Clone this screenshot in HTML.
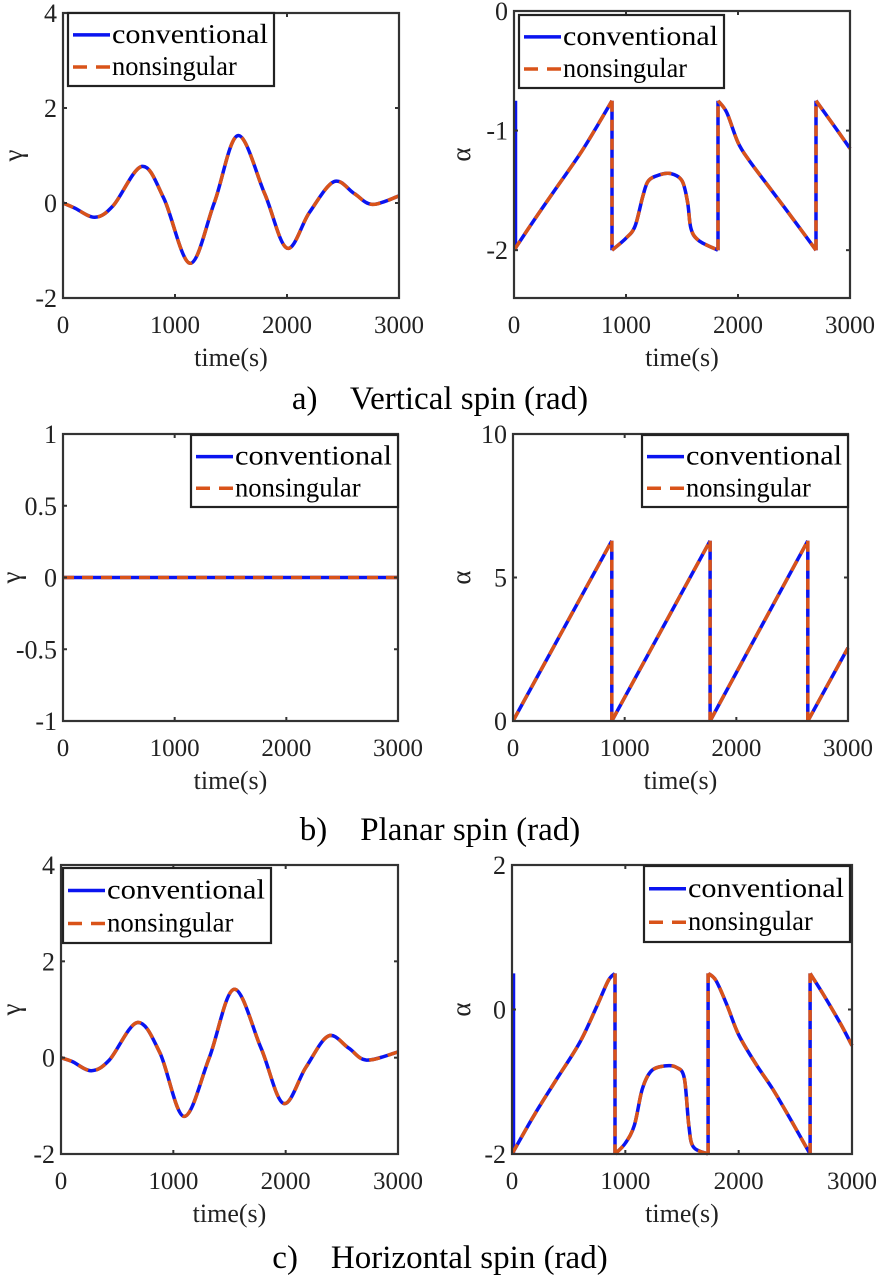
<!DOCTYPE html>
<html><head><meta charset="utf-8">
<style>
html,body{margin:0;padding:0;background:#fff;}
svg{display:block;font-family:"Liberation Serif",serif;}
</style></head>
<body>
<svg id="fig" width="881" height="1279" viewBox="0 0 881 1279"></svg>
<script>
// ---------- data ----------
const xTicks = [0, 1000, 2000, 3000];
// a) vertical spin
const aGammaT = [0,100,285,450,705,900,1134,1350,1562,1800,2000,2200,2420,2600,2760,3000];
const aGammaV = [0,-0.1,-0.3,-0.05,0.77,0.1,-1.27,0,1.42,0.2,-0.95,-0.2,0.45,0.2,-0.03,0.15];
const aAlphaT = [0,200,400,600,750,875,null,875,1000,1080,1150,1200,1300,1400,1500,1550,1580,1650,1821,null,1821,1900,2000,2100,2300,2500,2696,null,2696,2850,3000];
const aAlphaV = [-2,-1.72,-1.45,-1.18,-0.95,-0.75,null,-2,-1.9,-1.8,-1.55,-1.42,-1.37,-1.36,-1.42,-1.6,-1.82,-1.92,-2,null,-0.75,-0.85,-1.1,-1.25,-1.5,-1.75,-2,null,-0.75,-0.95,-1.15];
// b) planar spin
const bGammaT = [0,3000];
const bGammaV = [0,0];
const bAlphaT = [0,885,null,885,1765,null,1765,2640,null,2640,3000];
const bAlphaV = [0,6.28,null,0,6.28,null,0,6.28,null,0,2.55];
// c) horizontal spin
const cGammaT = [0,100,270,430,680,880,1095,1320,1540,1780,1980,2180,2380,2560,2720,3000];
const cGammaV = [0,-0.08,-0.27,-0.05,0.73,0.1,-1.22,0,1.42,0.2,-0.95,-0.2,0.45,0.2,-0.05,0.12];
const cAlphaT = [0,200,400,600,750,850,909,null,909,1000,1080,1150,1230,1350,1450,1520,1560,1600,1730,null,1730,1800,1900,2000,2150,2300,2450,2630,null,2630,2750,2900,3000];
const cAlphaV = [-2,-1.45,-0.95,-0.45,0.05,0.4,0.5,null,-2,-1.85,-1.6,-1.1,-0.85,-0.78,-0.8,-0.95,-1.6,-1.9,-2,null,0.5,0.4,0.05,-0.35,-0.75,-1.1,-1.5,-2,null,0.5,0.2,-0.2,-0.5];

const NS = "http://www.w3.org/2000/svg";
const svg = document.getElementById('fig');
function mk(tag, attrs, parent){
  const e = document.createElementNS(NS, tag);
  for (const k in attrs) e.setAttribute(k, attrs[k]);
  (parent||svg).appendChild(e);
  return e;
}
function smoothPath(pts){
  if (pts.length < 3) return 'M'+pts.map(p=>p[0].toFixed(1)+','+p[1].toFixed(1)).join(' L');
  let d = 'M'+pts[0][0].toFixed(1)+','+pts[0][1].toFixed(1);
  for (let i=0;i<pts.length-1;i++){
    const p0=pts[Math.max(0,i-1)], p1=pts[i], p2=pts[i+1], p3=pts[Math.min(pts.length-1,i+2)];
    const c1=[p1[0]+(p2[0]-p0[0])/6, p1[1]+(p2[1]-p0[1])/6];
    const c2=[p2[0]-(p3[0]-p1[0])/6, p2[1]-(p3[1]-p1[1])/6];
    d += ' C'+c1.map(v=>v.toFixed(1)).join(',')+' '+c2.map(v=>v.toFixed(1)).join(',')+' '+p2[0].toFixed(1)+','+p2[1].toFixed(1);
  }
  return d;
}
function panel(cfg){
  const g = mk('g', {});
  
  
  const X = t => cfg.x0 + (t - 0) / 3000 * (cfg.x1 - cfg.x0);
  const Y = v => cfg.y1 - (v - cfg.ymin) / (cfg.ymax - cfg.ymin) * (cfg.y1 - cfg.y0);
  const segs = []; let cur = [];
  for (let i=0;i<cfg.T.length;i++){
    if (cfg.T[i] === null){ segs.push(cur); cur=[]; continue; }
    cur.push([X(cfg.T[i]), Y(cfg.V[i])]);
  }
  segs.push(cur);
  let d = segs.map(s=>smoothPath(s)).join(' ');
  for (let i=1;i<segs.length;i++){
    const a = segs[i-1][segs[i-1].length-1], b = segs[i][0];
    d += ' M'+a[0].toFixed(1)+','+a[1].toFixed(1)+' L'+b[0].toFixed(1)+','+b[1].toFixed(1);
  }
  const clipId = cfg.name+'-clip';
  const cp = mk('clipPath',{id:clipId}, g);
  mk('rect',{x:cfg.x0,y:cfg.y0-2,width:cfg.x1-cfg.x0+2,height:cfg.y1-cfg.y0+4},cp);
  if (cfg.startJump !== undefined){
    const l = mk('line',{x1:X(0)+1.5,x2:X(0)+1.5,y1:Y(cfg.startJump[0]),y2:Y(cfg.startJump[1]),stroke:'#0a14f0','stroke-width':3.5}, g);
    
    
  }
  const p1 = mk('path',{d:d,fill:'none',stroke:'#0a14f0','stroke-width':3.5,'clip-path':'url(#'+clipId+')'}, g);
  
  
  const p2 = mk('path',{d:d,fill:'none',stroke:'#d95319','stroke-width':3.5,'stroke-dasharray':'11 8','clip-path':'url(#'+clipId+')'}, g);
  
  
  const box = mk('rect',{x:cfg.x0,y:cfg.y0,width:cfg.x1-cfg.x0,height:cfg.y1-cfg.y0,fill:'none',stroke:'#333','stroke-width':2.2}, g);
  
  
  xTicks.forEach(t=>{
    mk('line',{x1:X(t),x2:X(t),y1:cfg.y1,y2:cfg.y1-4,stroke:'#333','stroke-width':2},g);
    mk('line',{x1:X(t),x2:X(t),y1:cfg.y0,y2:cfg.y0+4,stroke:'#333','stroke-width':2},g);
    const tx = mk('text',{x:X(t),y:cfg.y1+35,'font-size':25,'text-anchor':'middle',fill:'#222'},g);
    tx.textContent = t;
    
    
  });
  cfg.yTicks.forEach(v=>{
    mk('line',{x1:cfg.x0,x2:cfg.x0+4,y1:Y(v),y2:Y(v),stroke:'#333','stroke-width':2},g);
    mk('line',{x1:cfg.x1,x2:cfg.x1-4,y1:Y(v),y2:Y(v),stroke:'#333','stroke-width':2},g);
    const ty = mk('text',{x:cfg.x0-6,y:Y(v)+9,'font-size':26,'text-anchor':'end',fill:'#222'},g);
    ty.textContent = (v<0?'-':'')+String(Math.abs(v));
    
    
  });
  const xt = mk('text',{x:(cfg.x0+cfg.x1)/2,y:cfg.y1+68,'font-size':26,'text-anchor':'middle',fill:'#222'},g);
  xt.textContent = 'time(s)';
  
  
  const yt = mk('text',{x:cfg.ylabX,y:(cfg.y0+cfg.y1)/2,'font-size':27,'text-anchor':'middle',fill:'#222',transform:'rotate(-90 '+cfg.ylabX+' '+(cfg.y0+cfg.y1)/2+')'},g);
  yt.textContent = cfg.ylabel;
  
  
  const L = cfg.legend;
  const lg = mk('g',{},g);
  
  
  mk('rect',{x:L[0],y:L[1],width:L[2]-L[0],height:L[3]-L[1],fill:'#fff',stroke:'#222','stroke-width':2.2},lg);
  const h = L[3]-L[1];
  const r1 = L[1]+h*0.3, r2 = L[1]+h*0.74;
  mk('line',{x1:L[0]+5,x2:L[0]+42,y1:r1,y2:r1,stroke:'#0a14f0','stroke-width':3.5},lg);
  mk('line',{x1:L[0]+5,x2:L[0]+42,y1:r2,y2:r2,stroke:'#d95319','stroke-width':3.5,'stroke-dasharray':'14 9'},lg);
  const e1 = mk('text',{x:L[0]+44,y:r1+8,'font-size':27,fill:'#000',textLength:L[2]-L[0]-50,lengthAdjust:'spacingAndGlyphs'},lg);
  e1.textContent='conventional';
  
  
  const e2 = mk('text',{x:L[0]+44,y:r2+8,'font-size':27,fill:'#000',textLength:(L[2]-L[0]-50)*0.8,lengthAdjust:'spacingAndGlyphs'},lg);
  e2.textContent='nonsingular';
  
  
}
function caption(text, y, name){
  const c = mk('text',{x:440,y:y,'font-size':33,'text-anchor':'middle',fill:'#000'});
  c.textContent = text;
  
  
  c.style.whiteSpace='pre';
}
panel({name:'panel-a-gamma',x0:63,x1:399,y0:13,y1:298,ymin:-2,ymax:4,yTicks:[-2,0,2,4],T:aGammaT,V:aGammaV,ylabel:'γ',ylabX:22,legend:[68,13,274,86]});
panel({name:'panel-a-alpha',x0:514,x1:850,y0:11,y1:298,ymin:-2.4,ymax:0,yTicks:[-2,-1,0],T:aAlphaT,V:aAlphaV,ylabel:'α',ylabX:470,legend:[519,15,724,88],startJump:[-2,-0.75]});
panel({name:'panel-b-gamma',x0:63,x1:398,y0:434,y1:721,ymin:-1,ymax:1,yTicks:[-1,-0.5,0,0.5,1],T:bGammaT,V:bGammaV,ylabel:'γ',ylabX:20,legend:[191,435,398,507]});
panel({name:'panel-b-alpha',x0:513,x1:848,y0:434,y1:721,ymin:0,ymax:10,yTicks:[0,5,10],T:bAlphaT,V:bAlphaV,ylabel:'α',ylabX:470,legend:[642,435,848,507]});
panel({name:'panel-c-gamma',x0:61,x1:398,y0:865,y1:1154,ymin:-2,ymax:4,yTicks:[-2,0,2,4],T:cGammaT,V:cGammaV,ylabel:'γ',ylabX:20,legend:[63,868,271,943]});
panel({name:'panel-c-alpha',x0:512,x1:852,y0:865,y1:1154,ymin:-2,ymax:2,yTicks:[-2,0,2],T:cAlphaT,V:cAlphaV,ylabel:'α',ylabX:470,legend:[644,866,850,942],startJump:[-2,0.5]});
caption('a)    Vertical spin (rad)', 409, 'caption-a');
caption('b)    Planar spin (rad)', 840, 'caption-b');
caption('c)    Horizontal spin (rad)', 1268, 'caption-c');
</script>
</body></html>
